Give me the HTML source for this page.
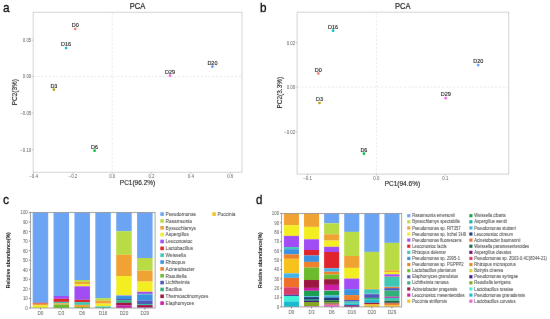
<!DOCTYPE html>
<html><head><meta charset="utf-8"><style>
html,body{margin:0;padding:0;background:#fff;width:550px;height:319px;overflow:hidden}
svg{display:block}
text{font-family:"Liberation Sans", sans-serif}
</style></head><body>
<svg width="550" height="319" viewBox="0 0 550 319">
<defs><filter id="soft" x="0" y="0" width="550" height="319" filterUnits="userSpaceOnUse" color-interpolation-filters="sRGB"><feConvolveMatrix order="3" kernelMatrix="0.00163 0.03713 0.00163 0.03713 0.84497 0.03713 0.00163 0.03713 0.00163" edgeMode="duplicate"/></filter></defs>
<g filter="url(#soft)">
<rect width="550" height="319" fill="#fff"/>
<text transform="translate(3.00 11.50) scale(0.9091 1)" font-size="12.980" fill="#000" text-anchor="start" stroke="#000" stroke-width="0.25">a</text>
<text transform="translate(260.10 12.00) scale(0.9091 1)" font-size="12.870" fill="#000" text-anchor="start" stroke="#000" stroke-width="0.25">b</text>
<text transform="translate(3.00 203.70) scale(0.9091 1)" font-size="13.420" fill="#000" text-anchor="start" stroke="#000" stroke-width="0.25">c</text>
<text transform="translate(255.90 203.80) scale(0.9091 1)" font-size="12.650" fill="#000" text-anchor="start" stroke="#000" stroke-width="0.25">d</text>
<line x1="112.20" y1="12.80" x2="112.20" y2="171.80" stroke="#dcdcdc" stroke-width="0.7" stroke-dasharray="1.9 1.9"/>
<line x1="33.70" y1="76.50" x2="241.50" y2="76.50" stroke="#dcdcdc" stroke-width="0.7" stroke-dasharray="1.9 1.9"/>
<rect x="33.20" y="12.30" width="208.80" height="160.00" fill="none" stroke="#d3d3d3" stroke-width="1"/>
<text transform="translate(137.60 8.80) scale(0.9091 1)" font-size="8.360" fill="#111" text-anchor="middle" stroke="#111" stroke-width="0.15">PCA</text>
<line x1="33.50" y1="172.30" x2="33.50" y2="173.90" stroke="#999" stroke-width="0.5"/>
<text transform="translate(33.50 178.40) scale(0.9091 1)" font-size="4.840" fill="#5a5a5a" text-anchor="middle">−0.4</text>
<line x1="72.90" y1="172.30" x2="72.90" y2="173.90" stroke="#999" stroke-width="0.5"/>
<text transform="translate(72.90 178.40) scale(0.9091 1)" font-size="4.840" fill="#5a5a5a" text-anchor="middle">−0.2</text>
<line x1="112.20" y1="172.30" x2="112.20" y2="173.90" stroke="#999" stroke-width="0.5"/>
<text transform="translate(112.20 178.40) scale(0.9091 1)" font-size="4.840" fill="#5a5a5a" text-anchor="middle">0.0</text>
<line x1="151.50" y1="172.30" x2="151.50" y2="173.90" stroke="#999" stroke-width="0.5"/>
<text transform="translate(151.50 178.40) scale(0.9091 1)" font-size="4.840" fill="#5a5a5a" text-anchor="middle">0.2</text>
<line x1="190.80" y1="172.30" x2="190.80" y2="173.90" stroke="#999" stroke-width="0.5"/>
<text transform="translate(190.80 178.40) scale(0.9091 1)" font-size="4.840" fill="#5a5a5a" text-anchor="middle">0.4</text>
<line x1="230.20" y1="172.30" x2="230.20" y2="173.90" stroke="#999" stroke-width="0.5"/>
<text transform="translate(230.20 178.40) scale(0.9091 1)" font-size="4.840" fill="#5a5a5a" text-anchor="middle">0.6</text>
<line x1="31.60" y1="40.20" x2="33.20" y2="40.20" stroke="#999" stroke-width="0.5"/>
<text transform="translate(31.30 42.10) scale(0.9091 1)" font-size="4.840" fill="#5a5a5a" text-anchor="end">0.05</text>
<line x1="31.60" y1="76.50" x2="33.20" y2="76.50" stroke="#999" stroke-width="0.5"/>
<text transform="translate(31.30 78.40) scale(0.9091 1)" font-size="4.840" fill="#5a5a5a" text-anchor="end">0.00</text>
<line x1="31.60" y1="112.90" x2="33.20" y2="112.90" stroke="#999" stroke-width="0.5"/>
<text transform="translate(31.30 114.80) scale(0.9091 1)" font-size="4.840" fill="#5a5a5a" text-anchor="end">−0.05</text>
<line x1="31.60" y1="149.60" x2="33.20" y2="149.60" stroke="#999" stroke-width="0.5"/>
<text transform="translate(31.30 151.50) scale(0.9091 1)" font-size="4.840" fill="#5a5a5a" text-anchor="end">−0.10</text>
<circle cx="75.20" cy="29.00" r="1.35" fill="#F8766D"/>
<text transform="translate(75.20 27.10) scale(0.9091 1)" font-size="6.050" fill="#000" text-anchor="middle" stroke="#000" stroke-width="0.08">D0</text>
<circle cx="66.10" cy="48.00" r="1.35" fill="#00BFC4"/>
<text transform="translate(66.10 46.10) scale(0.9091 1)" font-size="6.050" fill="#000" text-anchor="middle" stroke="#000" stroke-width="0.08">D16</text>
<circle cx="53.90" cy="89.60" r="1.35" fill="#B79F00"/>
<text transform="translate(53.90 87.70) scale(0.9091 1)" font-size="6.050" fill="#000" text-anchor="middle" stroke="#000" stroke-width="0.08">D3</text>
<circle cx="94.60" cy="150.70" r="1.35" fill="#00BA38"/>
<text transform="translate(94.60 148.80) scale(0.9091 1)" font-size="6.050" fill="#000" text-anchor="middle" stroke="#000" stroke-width="0.08">D6</text>
<circle cx="170.10" cy="75.70" r="1.35" fill="#F564E3"/>
<text transform="translate(170.10 73.80) scale(0.9091 1)" font-size="6.050" fill="#000" text-anchor="middle" stroke="#000" stroke-width="0.08">D29</text>
<circle cx="212.40" cy="66.70" r="1.35" fill="#619CFF"/>
<text transform="translate(212.40 64.80) scale(0.9091 1)" font-size="6.050" fill="#000" text-anchor="middle" stroke="#000" stroke-width="0.08">D20</text>
<text transform="translate(137.50 184.60) scale(0.9091 1)" font-size="7.150" fill="#111" text-anchor="middle" stroke="#111" stroke-width="0.1">PC1(96.2%)</text>
<text transform="translate(17.20 92.20) rotate(-90) scale(0.9091 1)" font-size="7.150" fill="#111" text-anchor="middle" stroke="#111" stroke-width="0.1">PC2(3%)</text>
<line x1="376.40" y1="12.70" x2="376.40" y2="173.60" stroke="#dcdcdc" stroke-width="0.7" stroke-dasharray="1.9 1.9"/>
<line x1="297.60" y1="87.10" x2="508.20" y2="87.10" stroke="#dcdcdc" stroke-width="0.7" stroke-dasharray="1.9 1.9"/>
<rect x="297.10" y="12.20" width="211.60" height="161.90" fill="none" stroke="#d3d3d3" stroke-width="1"/>
<text transform="translate(402.70 8.80) scale(0.9091 1)" font-size="8.360" fill="#111" text-anchor="middle" stroke="#111" stroke-width="0.15">PCA</text>
<line x1="307.50" y1="174.10" x2="307.50" y2="175.70" stroke="#999" stroke-width="0.5"/>
<text transform="translate(307.50 180.20) scale(0.9091 1)" font-size="4.840" fill="#5a5a5a" text-anchor="middle">−0.1</text>
<line x1="376.40" y1="174.10" x2="376.40" y2="175.70" stroke="#999" stroke-width="0.5"/>
<text transform="translate(376.40 180.20) scale(0.9091 1)" font-size="4.840" fill="#5a5a5a" text-anchor="middle">0.0</text>
<line x1="445.30" y1="174.10" x2="445.30" y2="175.70" stroke="#999" stroke-width="0.5"/>
<text transform="translate(445.30 180.20) scale(0.9091 1)" font-size="4.840" fill="#5a5a5a" text-anchor="middle">0.1</text>
<line x1="295.50" y1="42.60" x2="297.10" y2="42.60" stroke="#999" stroke-width="0.5"/>
<text transform="translate(295.20 44.50) scale(0.9091 1)" font-size="4.840" fill="#5a5a5a" text-anchor="end">0.02</text>
<line x1="295.50" y1="87.10" x2="297.10" y2="87.10" stroke="#999" stroke-width="0.5"/>
<text transform="translate(295.20 89.00) scale(0.9091 1)" font-size="4.840" fill="#5a5a5a" text-anchor="end">0.00</text>
<line x1="295.50" y1="131.70" x2="297.10" y2="131.70" stroke="#999" stroke-width="0.5"/>
<text transform="translate(295.20 133.60) scale(0.9091 1)" font-size="4.840" fill="#5a5a5a" text-anchor="end">−0.02</text>
<circle cx="333.10" cy="30.70" r="1.35" fill="#00BFC4"/>
<text transform="translate(333.10 28.80) scale(0.9091 1)" font-size="6.050" fill="#000" text-anchor="middle" stroke="#000" stroke-width="0.08">D16</text>
<circle cx="318.30" cy="73.50" r="1.35" fill="#F8766D"/>
<text transform="translate(318.30 71.60) scale(0.9091 1)" font-size="6.050" fill="#000" text-anchor="middle" stroke="#000" stroke-width="0.08">D0</text>
<circle cx="319.50" cy="103.00" r="1.35" fill="#B79F00"/>
<text transform="translate(319.50 101.10) scale(0.9091 1)" font-size="6.050" fill="#000" text-anchor="middle" stroke="#000" stroke-width="0.08">D3</text>
<circle cx="363.90" cy="153.70" r="1.35" fill="#00BA38"/>
<text transform="translate(363.90 151.80) scale(0.9091 1)" font-size="6.050" fill="#000" text-anchor="middle" stroke="#000" stroke-width="0.08">D6</text>
<circle cx="445.70" cy="98.20" r="1.35" fill="#F564E3"/>
<text transform="translate(445.70 96.30) scale(0.9091 1)" font-size="6.050" fill="#000" text-anchor="middle" stroke="#000" stroke-width="0.08">D29</text>
<circle cx="478.20" cy="65.10" r="1.35" fill="#619CFF"/>
<text transform="translate(478.20 63.20) scale(0.9091 1)" font-size="6.050" fill="#000" text-anchor="middle" stroke="#000" stroke-width="0.08">D20</text>
<text transform="translate(402.40 186.20) scale(0.9091 1)" font-size="7.150" fill="#111" text-anchor="middle" stroke="#111" stroke-width="0.1">PC1(94.6%)</text>
<text transform="translate(281.60 92.70) rotate(-90) scale(0.9091 1)" font-size="7.150" fill="#111" text-anchor="middle" stroke="#111" stroke-width="0.1">PC2(3.3%)</text>
<rect x="32.70" y="212.50" width="15.50" height="90.30" fill="#6ca4f4"/>
<rect x="32.70" y="302.80" width="15.50" height="0.90" fill="#e0242c"/>
<rect x="32.70" y="303.70" width="15.50" height="1.80" fill="#f0a232"/>
<rect x="32.70" y="305.50" width="15.50" height="2.50" fill="#f3ee22"/>
<rect x="53.58" y="212.50" width="15.50" height="83.50" fill="#6ca4f4"/>
<rect x="53.58" y="296.00" width="15.50" height="2.80" fill="#a14cf5"/>
<rect x="53.58" y="298.80" width="15.50" height="3.10" fill="#e0242c"/>
<rect x="53.58" y="301.90" width="15.50" height="1.40" fill="#3ec7b3"/>
<rect x="53.58" y="303.30" width="15.50" height="1.30" fill="#f0a232"/>
<rect x="53.58" y="304.60" width="15.50" height="3.40" fill="#6cbb2c"/>
<rect x="74.46" y="212.50" width="15.50" height="67.50" fill="#6ca4f4"/>
<rect x="74.46" y="280.00" width="15.50" height="1.90" fill="#b9dc44"/>
<rect x="74.46" y="281.90" width="15.50" height="2.30" fill="#f0a232"/>
<rect x="74.46" y="284.20" width="15.50" height="2.10" fill="#f3ee22"/>
<rect x="74.46" y="286.30" width="15.50" height="13.50" fill="#a14cf5"/>
<rect x="74.46" y="299.80" width="15.50" height="2.30" fill="#e0242c"/>
<rect x="74.46" y="302.10" width="15.50" height="2.80" fill="#3ec7b3"/>
<rect x="74.46" y="304.90" width="15.50" height="2.10" fill="#f0a232"/>
<rect x="74.46" y="307.00" width="15.50" height="1.00" fill="#6cbb2c"/>
<rect x="95.34" y="212.50" width="15.50" height="85.70" fill="#6ca4f4"/>
<rect x="95.34" y="298.20" width="15.50" height="2.50" fill="#b9dc44"/>
<rect x="95.34" y="300.70" width="15.50" height="2.90" fill="#f0a232"/>
<rect x="95.34" y="303.60" width="15.50" height="2.80" fill="#f3ee22"/>
<rect x="95.34" y="306.40" width="15.50" height="1.60" fill="#3ec7b3"/>
<rect x="116.22" y="212.50" width="15.50" height="18.70" fill="#6ca4f4"/>
<rect x="116.22" y="231.20" width="15.50" height="23.60" fill="#b9dc44"/>
<rect x="116.22" y="254.80" width="15.50" height="21.20" fill="#f0a232"/>
<rect x="116.22" y="276.00" width="15.50" height="19.20" fill="#f3ee22"/>
<rect x="116.22" y="295.20" width="15.50" height="0.60" fill="#b090e0"/>
<rect x="116.22" y="295.80" width="15.50" height="3.20" fill="#3a92e0"/>
<rect x="116.22" y="299.00" width="15.50" height="1.20" fill="#5058b8"/>
<rect x="116.22" y="300.20" width="15.50" height="2.60" fill="#30b07a"/>
<rect x="116.22" y="302.80" width="15.50" height="2.50" fill="#9a1840"/>
<rect x="116.22" y="305.30" width="15.50" height="2.70" fill="#cc1ca8"/>
<rect x="137.10" y="212.50" width="15.50" height="45.50" fill="#6ca4f4"/>
<rect x="137.10" y="258.00" width="15.50" height="12.70" fill="#b9dc44"/>
<rect x="137.10" y="270.70" width="15.50" height="10.90" fill="#f0a232"/>
<rect x="137.10" y="281.60" width="15.50" height="10.20" fill="#f3ee22"/>
<rect x="137.10" y="291.80" width="15.50" height="2.10" fill="#a14cf5"/>
<rect x="137.10" y="293.90" width="15.50" height="0.80" fill="#3ec7b3"/>
<rect x="137.10" y="294.70" width="15.50" height="5.90" fill="#3a92e0"/>
<rect x="137.10" y="300.60" width="15.50" height="3.40" fill="#5058b8"/>
<rect x="137.10" y="304.00" width="15.50" height="1.10" fill="#3ec7b3"/>
<rect x="137.10" y="305.10" width="15.50" height="2.30" fill="#9a1840"/>
<rect x="137.10" y="307.40" width="15.50" height="0.60" fill="#cc1ca8"/>
<rect x="30.40" y="212.50" width="124.70" height="95.50" fill="none" stroke="#8e8e8e" stroke-width="0.8"/>
<line x1="28.90" y1="308.00" x2="30.40" y2="308.00" stroke="#444" stroke-width="0.6"/>
<text transform="translate(27.80 309.90) scale(0.9091 1)" font-size="4.840" fill="#555" text-anchor="end">0</text>
<line x1="28.90" y1="298.45" x2="30.40" y2="298.45" stroke="#444" stroke-width="0.6"/>
<text transform="translate(27.80 300.35) scale(0.9091 1)" font-size="4.840" fill="#555" text-anchor="end">10</text>
<line x1="28.90" y1="288.90" x2="30.40" y2="288.90" stroke="#444" stroke-width="0.6"/>
<text transform="translate(27.80 290.80) scale(0.9091 1)" font-size="4.840" fill="#555" text-anchor="end">20</text>
<line x1="28.90" y1="279.35" x2="30.40" y2="279.35" stroke="#444" stroke-width="0.6"/>
<text transform="translate(27.80 281.25) scale(0.9091 1)" font-size="4.840" fill="#555" text-anchor="end">30</text>
<line x1="28.90" y1="269.80" x2="30.40" y2="269.80" stroke="#444" stroke-width="0.6"/>
<text transform="translate(27.80 271.70) scale(0.9091 1)" font-size="4.840" fill="#555" text-anchor="end">40</text>
<line x1="28.90" y1="260.25" x2="30.40" y2="260.25" stroke="#444" stroke-width="0.6"/>
<text transform="translate(27.80 262.15) scale(0.9091 1)" font-size="4.840" fill="#555" text-anchor="end">50</text>
<line x1="28.90" y1="250.70" x2="30.40" y2="250.70" stroke="#444" stroke-width="0.6"/>
<text transform="translate(27.80 252.60) scale(0.9091 1)" font-size="4.840" fill="#555" text-anchor="end">60</text>
<line x1="28.90" y1="241.15" x2="30.40" y2="241.15" stroke="#444" stroke-width="0.6"/>
<text transform="translate(27.80 243.05) scale(0.9091 1)" font-size="4.840" fill="#555" text-anchor="end">70</text>
<line x1="28.90" y1="231.60" x2="30.40" y2="231.60" stroke="#444" stroke-width="0.6"/>
<text transform="translate(27.80 233.50) scale(0.9091 1)" font-size="4.840" fill="#555" text-anchor="end">80</text>
<line x1="28.90" y1="222.05" x2="30.40" y2="222.05" stroke="#444" stroke-width="0.6"/>
<text transform="translate(27.80 223.95) scale(0.9091 1)" font-size="4.840" fill="#555" text-anchor="end">90</text>
<line x1="28.90" y1="212.50" x2="30.40" y2="212.50" stroke="#444" stroke-width="0.6"/>
<text transform="translate(27.80 214.40) scale(0.9091 1)" font-size="4.840" fill="#555" text-anchor="end">100</text>
<line x1="40.45" y1="308.00" x2="40.45" y2="309.50" stroke="#444" stroke-width="0.6"/>
<text transform="translate(40.45 315.00) scale(0.9091 1)" font-size="5.170" fill="#555" text-anchor="middle">D0</text>
<line x1="61.33" y1="308.00" x2="61.33" y2="309.50" stroke="#444" stroke-width="0.6"/>
<text transform="translate(61.33 315.00) scale(0.9091 1)" font-size="5.170" fill="#555" text-anchor="middle">D3</text>
<line x1="82.21" y1="308.00" x2="82.21" y2="309.50" stroke="#444" stroke-width="0.6"/>
<text transform="translate(82.21 315.00) scale(0.9091 1)" font-size="5.170" fill="#555" text-anchor="middle">D6</text>
<line x1="103.09" y1="308.00" x2="103.09" y2="309.50" stroke="#444" stroke-width="0.6"/>
<text transform="translate(103.09 315.00) scale(0.9091 1)" font-size="5.170" fill="#555" text-anchor="middle">D16</text>
<line x1="123.97" y1="308.00" x2="123.97" y2="309.50" stroke="#444" stroke-width="0.6"/>
<text transform="translate(123.97 315.00) scale(0.9091 1)" font-size="5.170" fill="#555" text-anchor="middle">D20</text>
<line x1="144.85" y1="308.00" x2="144.85" y2="309.50" stroke="#444" stroke-width="0.6"/>
<text transform="translate(144.85 315.00) scale(0.9091 1)" font-size="5.170" fill="#555" text-anchor="middle">D29</text>
<text transform="translate(9.50 260.25) rotate(-90) scale(0.9091 1)" font-size="5.610" fill="#111" text-anchor="middle" font-weight="bold">Relative abundance(%)</text>
<rect x="160.30" y="212.30" width="3.60" height="3.60" fill="#6ca4f4"/>
<text transform="translate(165.60 215.91) scale(0.9091 1)" font-size="5.225" fill="#474747" text-anchor="start" stroke="#474747" stroke-width="0.05">Pseudomonas</text>
<rect x="160.30" y="219.15" width="3.60" height="3.60" fill="#b9dc44"/>
<text transform="translate(165.60 222.75) scale(0.9091 1)" font-size="5.225" fill="#474747" text-anchor="start" stroke="#474747" stroke-width="0.05">Rasamsonia</text>
<rect x="160.30" y="226.00" width="3.60" height="3.60" fill="#f0a232"/>
<text transform="translate(165.60 229.60) scale(0.9091 1)" font-size="5.225" fill="#474747" text-anchor="start" stroke="#474747" stroke-width="0.05">Byssochlamys</text>
<rect x="160.30" y="232.85" width="3.60" height="3.60" fill="#f3ee22"/>
<text transform="translate(165.60 236.45) scale(0.9091 1)" font-size="5.225" fill="#474747" text-anchor="start" stroke="#474747" stroke-width="0.05">Aspergillus</text>
<rect x="160.30" y="239.70" width="3.60" height="3.60" fill="#a14cf5"/>
<text transform="translate(165.60 243.31) scale(0.9091 1)" font-size="5.225" fill="#474747" text-anchor="start" stroke="#474747" stroke-width="0.05">Leuconostoc</text>
<rect x="160.30" y="246.55" width="3.60" height="3.60" fill="#e0242c"/>
<text transform="translate(165.60 250.16) scale(0.9091 1)" font-size="5.225" fill="#474747" text-anchor="start" stroke="#474747" stroke-width="0.05">Lactobacillus</text>
<rect x="160.30" y="253.40" width="3.60" height="3.60" fill="#3ec7b3"/>
<text transform="translate(165.60 257.00) scale(0.9091 1)" font-size="5.225" fill="#474747" text-anchor="start" stroke="#474747" stroke-width="0.05">Weissella</text>
<rect x="160.30" y="260.25" width="3.60" height="3.60" fill="#3a92e0"/>
<text transform="translate(165.60 263.86) scale(0.9091 1)" font-size="5.225" fill="#474747" text-anchor="start" stroke="#474747" stroke-width="0.05">Rhizopus</text>
<rect x="160.30" y="267.10" width="3.60" height="3.60" fill="#f0802a"/>
<text transform="translate(165.60 270.70) scale(0.9091 1)" font-size="5.225" fill="#474747" text-anchor="start" stroke="#474747" stroke-width="0.05">Acinetobacter</text>
<rect x="160.30" y="273.95" width="3.60" height="3.60" fill="#6cbb2c"/>
<text transform="translate(165.60 277.56) scale(0.9091 1)" font-size="5.225" fill="#474747" text-anchor="start" stroke="#474747" stroke-width="0.05">Raoultella</text>
<rect x="160.30" y="280.80" width="3.60" height="3.60" fill="#5058b8"/>
<text transform="translate(165.60 284.41) scale(0.9091 1)" font-size="5.225" fill="#474747" text-anchor="start" stroke="#474747" stroke-width="0.05">Lichtheimia</text>
<rect x="160.30" y="287.65" width="3.60" height="3.60" fill="#30b07a"/>
<text transform="translate(165.60 291.25) scale(0.9091 1)" font-size="5.225" fill="#474747" text-anchor="start" stroke="#474747" stroke-width="0.05">Bacillus</text>
<rect x="160.30" y="294.50" width="3.60" height="3.60" fill="#9a1840"/>
<text transform="translate(165.60 298.10) scale(0.9091 1)" font-size="5.225" fill="#474747" text-anchor="start" stroke="#474747" stroke-width="0.05">Thermoactinomyces</text>
<rect x="160.30" y="301.35" width="3.60" height="3.60" fill="#cc1ca8"/>
<text transform="translate(165.60 304.95) scale(0.9091 1)" font-size="5.225" fill="#474747" text-anchor="start" stroke="#474747" stroke-width="0.05">Elaphomyces</text>
<rect x="212.30" y="212.30" width="3.60" height="3.60" fill="#f8c21c"/>
<text transform="translate(217.40 215.91) scale(0.9091 1)" font-size="5.225" fill="#474747" text-anchor="start" stroke="#474747" stroke-width="0.05">Puccinia</text>
<rect x="283.90" y="213.40" width="15.10" height="11.80" fill="#f0a232"/>
<rect x="283.90" y="225.20" width="15.10" height="10.70" fill="#f3ee22"/>
<rect x="283.90" y="235.90" width="15.10" height="11.20" fill="#a14cf5"/>
<rect x="283.90" y="247.10" width="15.10" height="2.10" fill="#3ec7b3"/>
<rect x="283.90" y="249.20" width="15.10" height="5.20" fill="#3a92e0"/>
<rect x="283.90" y="254.40" width="15.10" height="4.40" fill="#f0802a"/>
<rect x="283.90" y="258.80" width="15.10" height="14.60" fill="#f8c21c"/>
<rect x="283.90" y="273.40" width="15.10" height="4.50" fill="#40b4ec"/>
<rect x="283.90" y="277.90" width="15.10" height="9.40" fill="#f0702a"/>
<rect x="283.90" y="287.30" width="15.10" height="7.50" fill="#d83c6c"/>
<rect x="283.90" y="294.80" width="15.10" height="1.10" fill="#3c1890"/>
<rect x="283.90" y="295.90" width="15.10" height="5.50" fill="#40f0d8"/>
<rect x="283.90" y="301.40" width="15.10" height="5.50" fill="#18bcd0"/>
<rect x="304.00" y="213.40" width="15.10" height="13.50" fill="#f0a232"/>
<rect x="304.00" y="226.90" width="15.10" height="12.40" fill="#f3ee22"/>
<rect x="304.00" y="239.30" width="15.10" height="10.70" fill="#a14cf5"/>
<rect x="304.00" y="250.00" width="15.10" height="5.50" fill="#e0242c"/>
<rect x="304.00" y="255.50" width="15.10" height="6.40" fill="#3a92e0"/>
<rect x="304.00" y="261.90" width="15.10" height="5.70" fill="#f0802a"/>
<rect x="304.00" y="267.60" width="15.10" height="12.40" fill="#6cbb2c"/>
<rect x="304.00" y="280.00" width="15.10" height="7.90" fill="#9a1840"/>
<rect x="304.00" y="287.90" width="15.10" height="2.90" fill="#cc1ca8"/>
<rect x="304.00" y="290.80" width="15.10" height="5.50" fill="#1aa050"/>
<rect x="304.00" y="296.30" width="15.10" height="0.80" fill="#40b4ec"/>
<rect x="304.00" y="297.10" width="15.10" height="2.00" fill="#1c3a7c"/>
<rect x="304.00" y="299.10" width="15.10" height="1.70" fill="#1f8a70"/>
<rect x="304.00" y="300.80" width="15.10" height="1.20" fill="#3c1890"/>
<rect x="304.00" y="302.00" width="15.10" height="4.20" fill="#84a820"/>
<rect x="304.00" y="306.20" width="15.10" height="0.70" fill="#f060d0"/>
<rect x="324.10" y="213.40" width="15.10" height="9.90" fill="#6ca4f4"/>
<rect x="324.10" y="223.30" width="15.10" height="11.00" fill="#b9dc44"/>
<rect x="324.10" y="234.30" width="15.10" height="6.30" fill="#f0a232"/>
<rect x="324.10" y="240.60" width="15.10" height="6.20" fill="#f3ee22"/>
<rect x="324.10" y="246.80" width="15.10" height="5.20" fill="#a14cf5"/>
<rect x="324.10" y="252.00" width="15.10" height="16.30" fill="#e0242c"/>
<rect x="324.10" y="268.30" width="15.10" height="3.40" fill="#40b4ec"/>
<rect x="324.10" y="271.70" width="15.10" height="2.80" fill="#f0802a"/>
<rect x="324.10" y="274.50" width="15.10" height="4.70" fill="#6cbb2c"/>
<rect x="324.10" y="279.20" width="15.10" height="5.70" fill="#9a1840"/>
<rect x="324.10" y="284.90" width="15.10" height="5.50" fill="#cc1ca8"/>
<rect x="324.10" y="290.40" width="15.10" height="0.40" fill="#e8a0d0"/>
<rect x="324.10" y="290.80" width="15.10" height="4.70" fill="#1aa050"/>
<rect x="324.10" y="295.50" width="15.10" height="2.00" fill="#40b4ec"/>
<rect x="324.10" y="297.50" width="15.10" height="2.90" fill="#1c3a7c"/>
<rect x="324.10" y="300.40" width="15.10" height="1.60" fill="#1c6a40"/>
<rect x="324.10" y="302.00" width="15.10" height="1.60" fill="#84a820"/>
<rect x="324.10" y="303.60" width="15.10" height="0.90" fill="#7a1070"/>
<rect x="324.10" y="304.50" width="15.10" height="0.50" fill="#e08a20"/>
<rect x="324.10" y="305.00" width="15.10" height="1.90" fill="#f060d0"/>
<rect x="344.20" y="213.40" width="15.10" height="18.50" fill="#6ca4f4"/>
<rect x="344.20" y="231.90" width="15.10" height="24.10" fill="#b9dc44"/>
<rect x="344.20" y="256.00" width="15.10" height="11.90" fill="#f0a232"/>
<rect x="344.20" y="267.90" width="15.10" height="10.70" fill="#f3ee22"/>
<rect x="344.20" y="278.60" width="15.10" height="10.60" fill="#a14cf5"/>
<rect x="344.20" y="289.20" width="15.10" height="5.90" fill="#3a92e0"/>
<rect x="344.20" y="295.10" width="15.10" height="4.90" fill="#f0802a"/>
<rect x="344.20" y="300.00" width="15.10" height="1.60" fill="#5058b8"/>
<rect x="344.20" y="301.60" width="15.10" height="1.90" fill="#3ec7b3"/>
<rect x="344.20" y="303.50" width="15.10" height="1.70" fill="#18bcd0"/>
<rect x="344.20" y="305.20" width="15.10" height="1.70" fill="#7a1070"/>
<rect x="364.30" y="213.40" width="15.10" height="38.50" fill="#6ca4f4"/>
<rect x="364.30" y="251.90" width="15.10" height="36.20" fill="#b9dc44"/>
<rect x="364.30" y="288.10" width="15.10" height="1.10" fill="#f8c21c"/>
<rect x="364.30" y="289.20" width="15.10" height="4.40" fill="#3ec7b3"/>
<rect x="364.30" y="293.60" width="15.10" height="0.60" fill="#40b4ec"/>
<rect x="364.30" y="294.20" width="15.10" height="3.70" fill="#5058b8"/>
<rect x="364.30" y="297.90" width="15.10" height="1.70" fill="#30b07a"/>
<rect x="364.30" y="299.60" width="15.10" height="3.20" fill="#18bcd0"/>
<rect x="364.30" y="302.80" width="15.10" height="1.60" fill="#9a1840"/>
<rect x="364.30" y="304.40" width="15.10" height="2.50" fill="#f8c21c"/>
<rect x="384.40" y="213.40" width="15.10" height="29.50" fill="#6ca4f4"/>
<rect x="384.40" y="242.90" width="15.10" height="27.40" fill="#b9dc44"/>
<rect x="384.40" y="270.30" width="15.10" height="1.70" fill="#f0a232"/>
<rect x="384.40" y="272.00" width="15.10" height="2.30" fill="#f3ee22"/>
<rect x="384.40" y="274.30" width="15.10" height="2.00" fill="#a14cf5"/>
<rect x="384.40" y="276.30" width="15.10" height="0.50" fill="#d83c6c"/>
<rect x="384.40" y="276.80" width="15.10" height="9.70" fill="#3ec7b3"/>
<rect x="384.40" y="286.50" width="15.10" height="0.50" fill="#40b4ec"/>
<rect x="384.40" y="287.00" width="15.10" height="1.10" fill="#f0802a"/>
<rect x="384.40" y="288.10" width="15.10" height="2.50" fill="#5058b8"/>
<rect x="384.40" y="290.60" width="15.10" height="6.10" fill="#30b07a"/>
<rect x="384.40" y="296.70" width="15.10" height="1.20" fill="#cc1ca8"/>
<rect x="384.40" y="297.90" width="15.10" height="2.90" fill="#3ec7b3"/>
<rect x="384.40" y="300.80" width="15.10" height="2.00" fill="#1c6a40"/>
<rect x="384.40" y="302.80" width="15.10" height="0.80" fill="#9a1840"/>
<rect x="384.40" y="303.60" width="15.10" height="1.70" fill="#f0802a"/>
<rect x="384.40" y="305.30" width="15.10" height="1.60" fill="#f8c21c"/>
<rect x="281.60" y="213.40" width="120.10" height="93.50" fill="none" stroke="#8e8e8e" stroke-width="0.8"/>
<line x1="280.10" y1="306.90" x2="281.60" y2="306.90" stroke="#444" stroke-width="0.6"/>
<text transform="translate(279.10 308.80) scale(0.9091 1)" font-size="4.840" fill="#555" text-anchor="end">0</text>
<line x1="280.10" y1="297.55" x2="281.60" y2="297.55" stroke="#444" stroke-width="0.6"/>
<text transform="translate(279.10 299.45) scale(0.9091 1)" font-size="4.840" fill="#555" text-anchor="end">10</text>
<line x1="280.10" y1="288.20" x2="281.60" y2="288.20" stroke="#444" stroke-width="0.6"/>
<text transform="translate(279.10 290.10) scale(0.9091 1)" font-size="4.840" fill="#555" text-anchor="end">20</text>
<line x1="280.10" y1="278.85" x2="281.60" y2="278.85" stroke="#444" stroke-width="0.6"/>
<text transform="translate(279.10 280.75) scale(0.9091 1)" font-size="4.840" fill="#555" text-anchor="end">30</text>
<line x1="280.10" y1="269.50" x2="281.60" y2="269.50" stroke="#444" stroke-width="0.6"/>
<text transform="translate(279.10 271.40) scale(0.9091 1)" font-size="4.840" fill="#555" text-anchor="end">40</text>
<line x1="280.10" y1="260.15" x2="281.60" y2="260.15" stroke="#444" stroke-width="0.6"/>
<text transform="translate(279.10 262.05) scale(0.9091 1)" font-size="4.840" fill="#555" text-anchor="end">50</text>
<line x1="280.10" y1="250.80" x2="281.60" y2="250.80" stroke="#444" stroke-width="0.6"/>
<text transform="translate(279.10 252.70) scale(0.9091 1)" font-size="4.840" fill="#555" text-anchor="end">60</text>
<line x1="280.10" y1="241.45" x2="281.60" y2="241.45" stroke="#444" stroke-width="0.6"/>
<text transform="translate(279.10 243.35) scale(0.9091 1)" font-size="4.840" fill="#555" text-anchor="end">70</text>
<line x1="280.10" y1="232.10" x2="281.60" y2="232.10" stroke="#444" stroke-width="0.6"/>
<text transform="translate(279.10 234.00) scale(0.9091 1)" font-size="4.840" fill="#555" text-anchor="end">80</text>
<line x1="280.10" y1="222.75" x2="281.60" y2="222.75" stroke="#444" stroke-width="0.6"/>
<text transform="translate(279.10 224.65) scale(0.9091 1)" font-size="4.840" fill="#555" text-anchor="end">90</text>
<line x1="280.10" y1="213.40" x2="281.60" y2="213.40" stroke="#444" stroke-width="0.6"/>
<text transform="translate(279.10 215.30) scale(0.9091 1)" font-size="4.840" fill="#555" text-anchor="end">100</text>
<line x1="291.45" y1="306.90" x2="291.45" y2="308.40" stroke="#444" stroke-width="0.6"/>
<text transform="translate(291.45 314.30) scale(0.9091 1)" font-size="5.170" fill="#555" text-anchor="middle">D0</text>
<line x1="311.55" y1="306.90" x2="311.55" y2="308.40" stroke="#444" stroke-width="0.6"/>
<text transform="translate(311.55 314.30) scale(0.9091 1)" font-size="5.170" fill="#555" text-anchor="middle">D3</text>
<line x1="331.65" y1="306.90" x2="331.65" y2="308.40" stroke="#444" stroke-width="0.6"/>
<text transform="translate(331.65 314.30) scale(0.9091 1)" font-size="5.170" fill="#555" text-anchor="middle">D6</text>
<line x1="351.75" y1="306.90" x2="351.75" y2="308.40" stroke="#444" stroke-width="0.6"/>
<text transform="translate(351.75 314.30) scale(0.9091 1)" font-size="5.170" fill="#555" text-anchor="middle">D16</text>
<line x1="371.85" y1="306.90" x2="371.85" y2="308.40" stroke="#444" stroke-width="0.6"/>
<text transform="translate(371.85 314.30) scale(0.9091 1)" font-size="5.170" fill="#555" text-anchor="middle">D20</text>
<line x1="391.95" y1="306.90" x2="391.95" y2="308.40" stroke="#444" stroke-width="0.6"/>
<text transform="translate(391.95 314.30) scale(0.9091 1)" font-size="5.170" fill="#555" text-anchor="middle">D29</text>
<text transform="translate(262.00 260.15) rotate(-90) scale(0.9091 1)" font-size="5.610" fill="#111" text-anchor="middle" font-weight="bold">Relative abundance(%)</text>
<rect x="407.20" y="214.12" width="3.15" height="3.15" fill="#6ca4f4"/>
<text transform="translate(412.20 217.30) scale(0.9091 1)" font-size="4.620" fill="#474747" text-anchor="start" stroke="#474747" stroke-width="0.05">Rasamsonia emersonii</text>
<rect x="407.20" y="220.23" width="3.15" height="3.15" fill="#b9dc44"/>
<text transform="translate(412.20 223.40) scale(0.9091 1)" font-size="4.620" fill="#474747" text-anchor="start" stroke="#474747" stroke-width="0.05">Byssochlamys spectabilis</text>
<rect x="407.20" y="226.34" width="3.15" height="3.15" fill="#f0a232"/>
<text transform="translate(412.20 229.51) scale(0.9091 1)" font-size="4.620" fill="#474747" text-anchor="start" stroke="#474747" stroke-width="0.05">Pseudomonas sp. RIT357</text>
<rect x="407.20" y="232.45" width="3.15" height="3.15" fill="#f3ee22"/>
<text transform="translate(412.20 235.62) scale(0.9091 1)" font-size="4.620" fill="#474747" text-anchor="start" stroke="#474747" stroke-width="0.05">Pseudomonas sp. Irchel 3H9</text>
<rect x="407.20" y="238.55" width="3.15" height="3.15" fill="#a14cf5"/>
<text transform="translate(412.20 241.72) scale(0.9091 1)" font-size="4.620" fill="#474747" text-anchor="start" stroke="#474747" stroke-width="0.05">Pseudomonas fluorescens</text>
<rect x="407.20" y="244.66" width="3.15" height="3.15" fill="#e0242c"/>
<text transform="translate(412.20 247.83) scale(0.9091 1)" font-size="4.620" fill="#474747" text-anchor="start" stroke="#474747" stroke-width="0.05">Leuconostoc lactis</text>
<rect x="407.20" y="250.77" width="3.15" height="3.15" fill="#3ec7b3"/>
<text transform="translate(412.20 253.94) scale(0.9091 1)" font-size="4.620" fill="#474747" text-anchor="start" stroke="#474747" stroke-width="0.05">Rhizopus delemar</text>
<rect x="407.20" y="256.87" width="3.15" height="3.15" fill="#3a92e0"/>
<text transform="translate(412.20 260.05) scale(0.9091 1)" font-size="4.620" fill="#474747" text-anchor="start" stroke="#474747" stroke-width="0.05">Pseudomonas sp. 2995-1</text>
<rect x="407.20" y="262.98" width="3.15" height="3.15" fill="#f0802a"/>
<text transform="translate(412.20 266.15) scale(0.9091 1)" font-size="4.620" fill="#474747" text-anchor="start" stroke="#474747" stroke-width="0.05">Pseudomonas sp. PGPPP2</text>
<rect x="407.20" y="269.09" width="3.15" height="3.15" fill="#6cbb2c"/>
<text transform="translate(412.20 272.26) scale(0.9091 1)" font-size="4.620" fill="#474747" text-anchor="start" stroke="#474747" stroke-width="0.05">Lactobacillus plantarum</text>
<rect x="407.20" y="275.19" width="3.15" height="3.15" fill="#5058b8"/>
<text transform="translate(412.20 278.37) scale(0.9091 1)" font-size="4.620" fill="#474747" text-anchor="start" stroke="#474747" stroke-width="0.05">Elaphomyces granulatus</text>
<rect x="407.20" y="281.30" width="3.15" height="3.15" fill="#30b07a"/>
<text transform="translate(412.20 284.47) scale(0.9091 1)" font-size="4.620" fill="#474747" text-anchor="start" stroke="#474747" stroke-width="0.05">Lichtheimia ramosa</text>
<rect x="407.20" y="287.41" width="3.15" height="3.15" fill="#9a1840"/>
<text transform="translate(412.20 290.58) scale(0.9091 1)" font-size="4.620" fill="#474747" text-anchor="start" stroke="#474747" stroke-width="0.05">Acinetobacter pragensis</text>
<rect x="407.20" y="293.52" width="3.15" height="3.15" fill="#cc1ca8"/>
<text transform="translate(412.20 296.69) scale(0.9091 1)" font-size="4.620" fill="#474747" text-anchor="start" stroke="#474747" stroke-width="0.05">Leuconostoc mesenteroides</text>
<rect x="407.20" y="299.62" width="3.15" height="3.15" fill="#f8c21c"/>
<text transform="translate(412.20 302.79) scale(0.9091 1)" font-size="4.620" fill="#474747" text-anchor="start" stroke="#474747" stroke-width="0.05">Puccinia striiformis</text>
<rect x="469.30" y="214.12" width="3.15" height="3.15" fill="#1aa050"/>
<text transform="translate(474.30 217.30) scale(0.9091 1)" font-size="4.620" fill="#474747" text-anchor="start" stroke="#474747" stroke-width="0.05">Weissella cibaria</text>
<rect x="469.30" y="220.23" width="3.15" height="3.15" fill="#18b0b0"/>
<text transform="translate(474.30 223.40) scale(0.9091 1)" font-size="4.620" fill="#474747" text-anchor="start" stroke="#474747" stroke-width="0.05">Aspergillus wentii</text>
<rect x="469.30" y="226.34" width="3.15" height="3.15" fill="#40b4ec"/>
<text transform="translate(474.30 229.51) scale(0.9091 1)" font-size="4.620" fill="#474747" text-anchor="start" stroke="#474747" stroke-width="0.05">Pseudomonas stutzeri</text>
<rect x="469.30" y="232.45" width="3.15" height="3.15" fill="#1c3a7c"/>
<text transform="translate(474.30 235.62) scale(0.9091 1)" font-size="4.620" fill="#474747" text-anchor="start" stroke="#474747" stroke-width="0.05">Leuconostoc citreum</text>
<rect x="469.30" y="238.55" width="3.15" height="3.15" fill="#f0702a"/>
<text transform="translate(474.30 241.72) scale(0.9091 1)" font-size="4.620" fill="#474747" text-anchor="start" stroke="#474747" stroke-width="0.05">Acinetobacter baumannii</text>
<rect x="469.30" y="244.66" width="3.15" height="3.15" fill="#1c6a40"/>
<text transform="translate(474.30 247.83) scale(0.9091 1)" font-size="4.620" fill="#474747" text-anchor="start" stroke="#474747" stroke-width="0.05">Weissella paramesenteroides</text>
<rect x="469.30" y="250.77" width="3.15" height="3.15" fill="#7a1070"/>
<text transform="translate(474.30 253.94) scale(0.9091 1)" font-size="4.620" fill="#474747" text-anchor="start" stroke="#474747" stroke-width="0.05">Aspergillus clavatus</text>
<rect x="469.30" y="256.87" width="3.15" height="3.15" fill="#d83c6c"/>
<text transform="translate(474.30 260.05) scale(0.9091 1)" font-size="4.620" fill="#474747" text-anchor="start" stroke="#474747" stroke-width="0.05">Pseudomonas sp. Z003-0.4C(8344-21)</text>
<rect x="469.30" y="262.98" width="3.15" height="3.15" fill="#e08a20"/>
<text transform="translate(474.30 266.15) scale(0.9091 1)" font-size="4.620" fill="#474747" text-anchor="start" stroke="#474747" stroke-width="0.05">Rhizopus microsporus</text>
<rect x="469.30" y="269.09" width="3.15" height="3.15" fill="#dcd030"/>
<text transform="translate(474.30 272.26) scale(0.9091 1)" font-size="4.620" fill="#474747" text-anchor="start" stroke="#474747" stroke-width="0.05">Botrytis cinerea</text>
<rect x="469.30" y="275.19" width="3.15" height="3.15" fill="#3c1890"/>
<text transform="translate(474.30 278.37) scale(0.9091 1)" font-size="4.620" fill="#474747" text-anchor="start" stroke="#474747" stroke-width="0.05">Pseudomonas syringae</text>
<rect x="469.30" y="281.30" width="3.15" height="3.15" fill="#84a820"/>
<text transform="translate(474.30 284.47) scale(0.9091 1)" font-size="4.620" fill="#474747" text-anchor="start" stroke="#474747" stroke-width="0.05">Raoultella terrigena</text>
<rect x="469.30" y="287.41" width="3.15" height="3.15" fill="#40f0d8"/>
<text transform="translate(474.30 290.58) scale(0.9091 1)" font-size="4.620" fill="#474747" text-anchor="start" stroke="#474747" stroke-width="0.05">Lactobacillus rossiae</text>
<rect x="469.30" y="293.52" width="3.15" height="3.15" fill="#18bcd0"/>
<text transform="translate(474.30 296.69) scale(0.9091 1)" font-size="4.620" fill="#474747" text-anchor="start" stroke="#474747" stroke-width="0.05">Pseudomonas granadensis</text>
<rect x="469.30" y="299.62" width="3.15" height="3.15" fill="#f060d0"/>
<text transform="translate(474.30 302.79) scale(0.9091 1)" font-size="4.620" fill="#474747" text-anchor="start" stroke="#474747" stroke-width="0.05">Lactobacillus curvatus</text>
</g>
</svg>
</body></html>
